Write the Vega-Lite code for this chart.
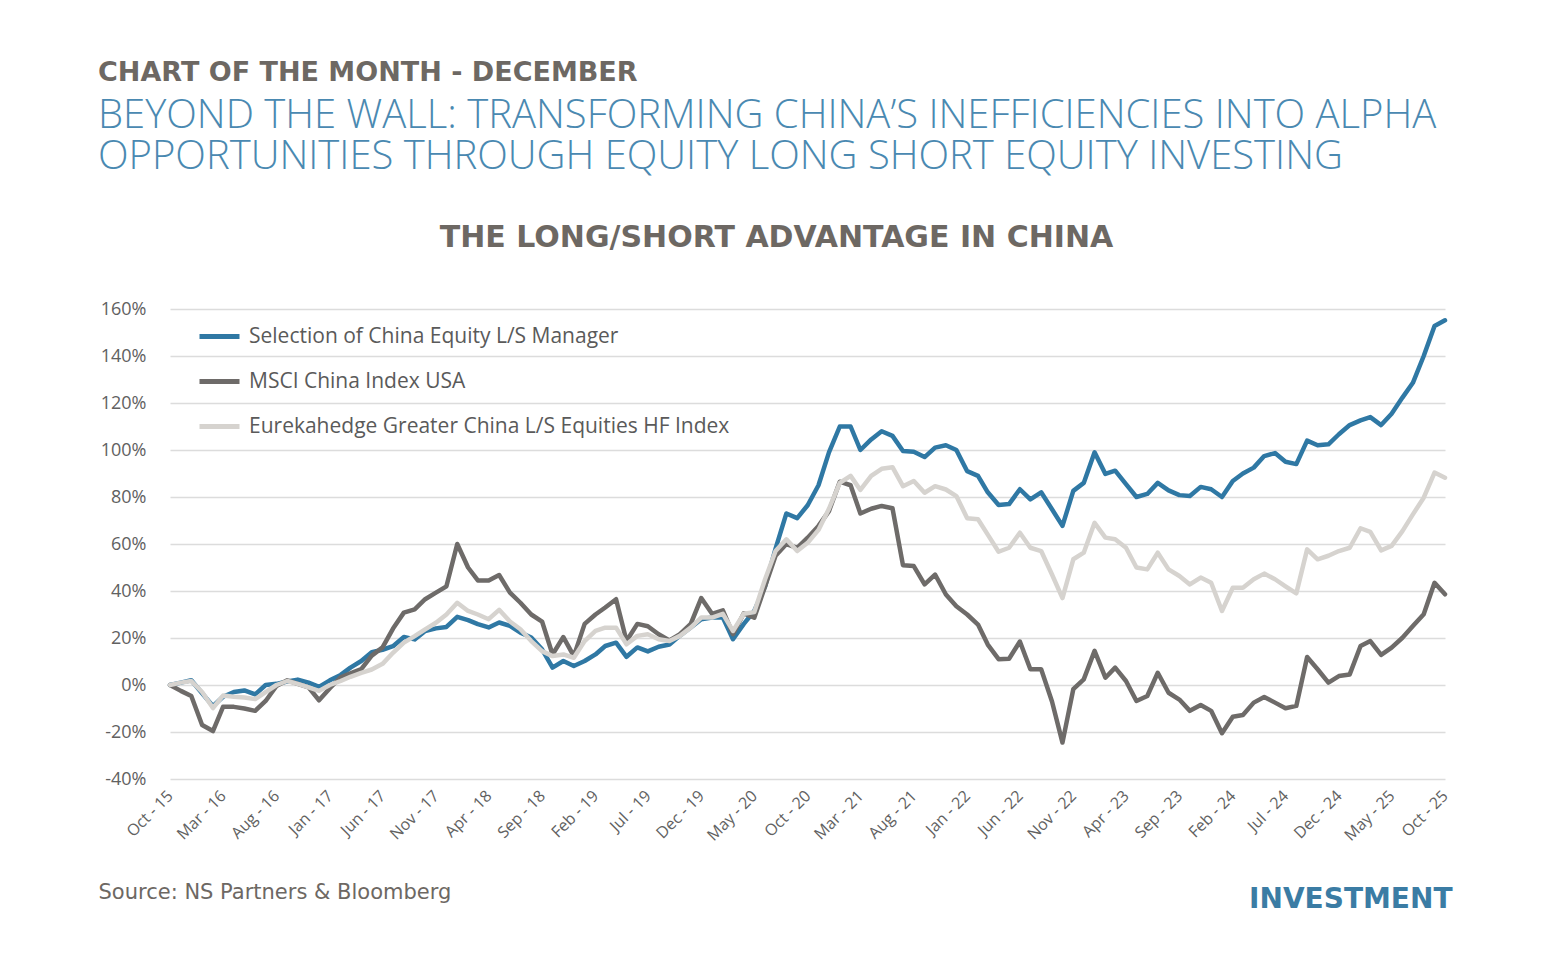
{
  "$schema": "https://vega.github.io/schema/vega-lite/v6.json",
  "width": 1275,
  "height": 470,
  "autosize": {"type": "none"},
  "padding": {"left": 170, "top": 309, "right": 105, "bottom": 191},
  "background": "white",
  "config": {"view": {"stroke": null}, "font": "Open Sans"},
  "title": {
    "text": "CHART OF THE MONTH - DECEMBER",
    "subtitle": ["BEYOND THE WALL: TRANSFORMING CHINA’S INEFFICIENCIES INTO ALPHA", "OPPORTUNITIES THROUGH EQUITY LONG SHORT EQUITY INVESTING"],
    "anchor": "start",
    "frame": "group",
    "dx": -72,
    "offset": 44,
    "font": "DejaVu Sans",
    "fontSize": 27,
    "fontWeight": "bold",
    "color": "#6d6863",
    "subtitleFont": "Open Sans",
    "subtitleFontSize": 40,
    "subtitleFontWeight": 300,
    "subtitleColor": "#4a89b1",
    "subtitlePadding": 9,
    "subtitleLineHeight": 41
  },
  "data": {"values": [
    {"month": "2015-10-01", "manager": 0, "msci": 0, "eureka": 0},
    {"month": "2015-11-01", "manager": 1, "msci": -2.5, "eureka": 1},
    {"month": "2015-12-01", "manager": 2, "msci": -4.7, "eureka": 1.7},
    {"month": "2016-01-01", "manager": -3.5, "msci": -17, "eureka": -3},
    {"month": "2016-02-01", "manager": -9, "msci": -19.6, "eureka": -9.8},
    {"month": "2016-03-01", "manager": -5, "msci": -9.3, "eureka": -4.5},
    {"month": "2016-04-01", "manager": -3, "msci": -9.3, "eureka": -5},
    {"month": "2016-05-01", "manager": -2.3, "msci": -10, "eureka": -5.3},
    {"month": "2016-06-01", "manager": -4, "msci": -11, "eureka": -6},
    {"month": "2016-07-01", "manager": 0, "msci": -6.8, "eureka": -3},
    {"month": "2016-08-01", "manager": 0.5, "msci": -0.4, "eureka": 0},
    {"month": "2016-09-01", "manager": 1.5, "msci": 2, "eureka": 1.7},
    {"month": "2016-10-01", "manager": 2.3, "msci": 0.5, "eureka": 0.5},
    {"month": "2016-11-01", "manager": 1, "msci": -1, "eureka": -1},
    {"month": "2016-12-01", "manager": -0.8, "msci": -6.5, "eureka": -2.5},
    {"month": "2017-01-01", "manager": 2, "msci": -1.4, "eureka": 0},
    {"month": "2017-02-01", "manager": 4.3, "msci": 3.3, "eureka": 1.7},
    {"month": "2017-03-01", "manager": 7.4, "msci": 5, "eureka": 3.5},
    {"month": "2017-04-01", "manager": 10.2, "msci": 6.8, "eureka": 5.2},
    {"month": "2017-05-01", "manager": 14, "msci": 12.5, "eureka": 6.6},
    {"month": "2017-06-01", "manager": 15, "msci": 16, "eureka": 9},
    {"month": "2017-07-01", "manager": 16.5, "msci": 24, "eureka": 13.7},
    {"month": "2017-08-01", "manager": 20.4, "msci": 30.8, "eureka": 18},
    {"month": "2017-09-01", "manager": 19.4, "msci": 32.2, "eureka": 20.8},
    {"month": "2017-10-01", "manager": 23, "msci": 36.5, "eureka": 23.7},
    {"month": "2017-11-01", "manager": 24.1, "msci": 39.3, "eureka": 26.5},
    {"month": "2017-12-01", "manager": 24.7, "msci": 42, "eureka": 30},
    {"month": "2018-01-01", "manager": 29, "msci": 60, "eureka": 35},
    {"month": "2018-02-01", "manager": 27.6, "msci": 50, "eureka": 31.5},
    {"month": "2018-03-01", "manager": 25.9, "msci": 44.5, "eureka": 30},
    {"month": "2018-04-01", "manager": 24.5, "msci": 44.5, "eureka": 28},
    {"month": "2018-05-01", "manager": 26.6, "msci": 46.8, "eureka": 32},
    {"month": "2018-06-01", "manager": 25.2, "msci": 39.3, "eureka": 27},
    {"month": "2018-07-01", "manager": 22.3, "msci": 35, "eureka": 23.7},
    {"month": "2018-08-01", "manager": 20.2, "msci": 30, "eureka": 18.7},
    {"month": "2018-09-01", "manager": 15.2, "msci": 27, "eureka": 14.4},
    {"month": "2018-10-01", "manager": 7.4, "msci": 13, "eureka": 12.3},
    {"month": "2018-11-01", "manager": 10.2, "msci": 20.4, "eureka": 13},
    {"month": "2018-12-01", "manager": 8.1, "msci": 12.3, "eureka": 11.6},
    {"month": "2019-01-01", "manager": 10.2, "msci": 26, "eureka": 18.7},
    {"month": "2019-02-01", "manager": 13, "msci": 30, "eureka": 23},
    {"month": "2019-03-01", "manager": 16.6, "msci": 33, "eureka": 24.4},
    {"month": "2019-04-01", "manager": 18, "msci": 36.5, "eureka": 24.4},
    {"month": "2019-05-01", "manager": 12, "msci": 18.7, "eureka": 17.3},
    {"month": "2019-06-01", "manager": 16, "msci": 26, "eureka": 20.9},
    {"month": "2019-07-01", "manager": 14.3, "msci": 25, "eureka": 21.6},
    {"month": "2019-08-01", "manager": 16.3, "msci": 21.6, "eureka": 19.5},
    {"month": "2019-09-01", "manager": 17.2, "msci": 19, "eureka": 18.7},
    {"month": "2019-10-01", "manager": 21, "msci": 21.6, "eureka": 20.9},
    {"month": "2019-11-01", "manager": 24.5, "msci": 26, "eureka": 24.4},
    {"month": "2019-12-01", "manager": 28, "msci": 37, "eureka": 28.7},
    {"month": "2020-01-01", "manager": 28.7, "msci": 30.3, "eureka": 28.7},
    {"month": "2020-02-01", "manager": 28.7, "msci": 31.8, "eureka": 30.3},
    {"month": "2020-03-01", "manager": 19.5, "msci": 21.6, "eureka": 23},
    {"month": "2020-04-01", "manager": 26, "msci": 30.5, "eureka": 30.3},
    {"month": "2020-05-01", "manager": 31.5, "msci": 28.6, "eureka": 31},
    {"month": "2020-06-01", "manager": 42, "msci": 42, "eureka": 45},
    {"month": "2020-07-01", "manager": 58, "msci": 55, "eureka": 57},
    {"month": "2020-08-01", "manager": 73, "msci": 60, "eureka": 62},
    {"month": "2020-09-01", "manager": 71, "msci": 58.4, "eureka": 57},
    {"month": "2020-10-01", "manager": 76.5, "msci": 62.7, "eureka": 60.5},
    {"month": "2020-11-01", "manager": 85, "msci": 67.7, "eureka": 66},
    {"month": "2020-12-01", "manager": 99, "msci": 74, "eureka": 75},
    {"month": "2021-01-01", "manager": 110, "msci": 86.5, "eureka": 86},
    {"month": "2021-02-01", "manager": 110, "msci": 85, "eureka": 89},
    {"month": "2021-03-01", "manager": 100, "msci": 73, "eureka": 83},
    {"month": "2021-04-01", "manager": 104.5, "msci": 75, "eureka": 89},
    {"month": "2021-05-01", "manager": 108, "msci": 76.2, "eureka": 92},
    {"month": "2021-06-01", "manager": 106, "msci": 75.2, "eureka": 92.7},
    {"month": "2021-07-01", "manager": 99.6, "msci": 51, "eureka": 84.6},
    {"month": "2021-08-01", "manager": 99.3, "msci": 50.6, "eureka": 86.8},
    {"month": "2021-09-01", "manager": 97, "msci": 42.8, "eureka": 81.8},
    {"month": "2021-10-01", "manager": 101, "msci": 47, "eureka": 84.6},
    {"month": "2021-11-01", "manager": 102, "msci": 38.5, "eureka": 83.2},
    {"month": "2021-12-01", "manager": 100, "msci": 33.5, "eureka": 80.4},
    {"month": "2022-01-01", "manager": 91, "msci": 30, "eureka": 71},
    {"month": "2022-02-01", "manager": 89, "msci": 25.7, "eureka": 70.5},
    {"month": "2022-03-01", "manager": 82, "msci": 17.2, "eureka": 64},
    {"month": "2022-04-01", "manager": 76.6, "msci": 11, "eureka": 56.7},
    {"month": "2022-05-01", "manager": 77, "msci": 11.2, "eureka": 58.4},
    {"month": "2022-06-01", "manager": 83.3, "msci": 18.5, "eureka": 64.8},
    {"month": "2022-07-01", "manager": 79, "msci": 6.7, "eureka": 58.4},
    {"month": "2022-08-01", "manager": 82, "msci": 6.7, "eureka": 57},
    {"month": "2022-09-01", "manager": 74.8, "msci": -7, "eureka": 47},
    {"month": "2022-10-01", "manager": 67.7, "msci": -24.5, "eureka": 37},
    {"month": "2022-11-01", "manager": 82.6, "msci": -1.8, "eureka": 53.5},
    {"month": "2022-12-01", "manager": 86, "msci": 2.4, "eureka": 56.3},
    {"month": "2023-01-01", "manager": 99, "msci": 14.5, "eureka": 69},
    {"month": "2023-02-01", "manager": 89.8, "msci": 3.1, "eureka": 62.7},
    {"month": "2023-03-01", "manager": 91.2, "msci": 7.4, "eureka": 62},
    {"month": "2023-04-01", "manager": 85.5, "msci": 1.7, "eureka": 58.4},
    {"month": "2023-05-01", "manager": 80, "msci": -6.8, "eureka": 50},
    {"month": "2023-06-01", "manager": 81.3, "msci": -4.7, "eureka": 49.2},
    {"month": "2023-07-01", "manager": 86, "msci": 5.2, "eureka": 56.3},
    {"month": "2023-08-01", "manager": 82.8, "msci": -3.3, "eureka": 49.2},
    {"month": "2023-09-01", "manager": 80.8, "msci": -6.2, "eureka": 46.4},
    {"month": "2023-10-01", "manager": 80.4, "msci": -11, "eureka": 42.8},
    {"month": "2023-11-01", "manager": 84.3, "msci": -8.5, "eureka": 45.7},
    {"month": "2023-12-01", "manager": 83.3, "msci": -11, "eureka": 43.5},
    {"month": "2024-01-01", "manager": 80, "msci": -20.5, "eureka": 31.5},
    {"month": "2024-02-01", "manager": 86.8, "msci": -13.5, "eureka": 41.4},
    {"month": "2024-03-01", "manager": 90, "msci": -12.8, "eureka": 41.4},
    {"month": "2024-04-01", "manager": 92.5, "msci": -7.5, "eureka": 45},
    {"month": "2024-05-01", "manager": 97.4, "msci": -5.1, "eureka": 47.4},
    {"month": "2024-06-01", "manager": 98.7, "msci": -7.5, "eureka": 45},
    {"month": "2024-07-01", "manager": 95, "msci": -9.9, "eureka": 42},
    {"month": "2024-08-01", "manager": 94, "msci": -8.9, "eureka": 39},
    {"month": "2024-09-01", "manager": 104, "msci": 11.9, "eureka": 57.7},
    {"month": "2024-10-01", "manager": 102, "msci": 6.7, "eureka": 53.5},
    {"month": "2024-11-01", "manager": 102.4, "msci": 1, "eureka": 55},
    {"month": "2024-12-01", "manager": 106.7, "msci": 3.8, "eureka": 57},
    {"month": "2025-01-01", "manager": 110.6, "msci": 4.5, "eureka": 58.4},
    {"month": "2025-02-01", "manager": 112.6, "msci": 16.6, "eureka": 66.7},
    {"month": "2025-03-01", "manager": 114, "msci": 18.7, "eureka": 65.2},
    {"month": "2025-04-01", "manager": 110.6, "msci": 12.8, "eureka": 57.3},
    {"month": "2025-05-01", "manager": 115.4, "msci": 15.9, "eureka": 59.2},
    {"month": "2025-06-01", "manager": 122.3, "msci": 20.1, "eureka": 65.5},
    {"month": "2025-07-01", "manager": 128.6, "msci": 25.1, "eureka": 72.6},
    {"month": "2025-08-01", "manager": 140, "msci": 30.1, "eureka": 79.7},
    {"month": "2025-09-01", "manager": 152.8, "msci": 43.5, "eureka": 90.4},
    {"month": "2025-10-01", "manager": 155.2, "msci": 38.6, "eureka": 88.2}
  ]},
  "transform": [{"fold": ["manager", "msci", "eureka"], "as": ["series", "value"]}],
  "resolve": {"axis": {"x": "independent", "y": "independent"}},
  "layer": [
    {
      "mark": {"type": "line", "strokeWidth": 4.5, "strokeJoin": "round", "strokeCap": "round"},
      "encoding": {
        "x": {
          "field": "month", "type": "temporal", "timeUnit": "utcyearmonth",
          "scale": {"domain": [{"year": 2015, "month": 10, "date": 1, "utc": true}, {"year": 2025, "month": 10, "date": 1, "utc": true}]},
          "axis": {
            "orient": "bottom",
            "values": [
              {"year": 2015, "month": 10, "date": 1, "utc": true},
              {"year": 2016, "month": 3, "date": 1, "utc": true},
              {"year": 2016, "month": 8, "date": 1, "utc": true},
              {"year": 2017, "month": 1, "date": 1, "utc": true},
              {"year": 2017, "month": 6, "date": 1, "utc": true},
              {"year": 2017, "month": 11, "date": 1, "utc": true},
              {"year": 2018, "month": 4, "date": 1, "utc": true},
              {"year": 2018, "month": 9, "date": 1, "utc": true},
              {"year": 2019, "month": 2, "date": 1, "utc": true},
              {"year": 2019, "month": 7, "date": 1, "utc": true},
              {"year": 2019, "month": 12, "date": 1, "utc": true},
              {"year": 2020, "month": 5, "date": 1, "utc": true},
              {"year": 2020, "month": 10, "date": 1, "utc": true},
              {"year": 2021, "month": 3, "date": 1, "utc": true},
              {"year": 2021, "month": 8, "date": 1, "utc": true},
              {"year": 2022, "month": 1, "date": 1, "utc": true},
              {"year": 2022, "month": 6, "date": 1, "utc": true},
              {"year": 2022, "month": 11, "date": 1, "utc": true},
              {"year": 2023, "month": 4, "date": 1, "utc": true},
              {"year": 2023, "month": 9, "date": 1, "utc": true},
              {"year": 2024, "month": 2, "date": 1, "utc": true},
              {"year": 2024, "month": 7, "date": 1, "utc": true},
              {"year": 2024, "month": 12, "date": 1, "utc": true},
              {"year": 2025, "month": 5, "date": 1, "utc": true},
              {"year": 2025, "month": 10, "date": 1, "utc": true}
            ],
            "format": "%b - %y",
            "labelAngle": -45,
            "labelAlign": "right",
            "labelBaseline": "middle",
            "labelPadding": 14,
            "labelFontSize": 16,
            "labelColor": "#616161",
            "labelOverlap": false,
            "labelFlush": false,
            "ticks": false,
            "domain": false,
            "grid": false,
            "title": "Source: NS Partners & Bloomberg",
            "titleFont": "DejaVu Sans",
            "titleFontSize": 21,
            "titleFontWeight": "normal",
            "titleColor": "#6d6863",
            "titleAnchor": "start",
            "titleAlign": "left",
            "titleBaseline": "alphabetic",
            "titleX": -72,
            "titleY": 119
          }
        },
        "y": {
          "field": "value", "type": "quantitative",
          "scale": {"domain": [-40, 160], "nice": false},
          "axis": {
            "orient": "left",
            "values": [-40, -20, 0, 20, 40, 60, 80, 100, 120, 140, 160],
            "labelExpr": "datum.value + '%'",
            "labelFontSize": 18,
            "labelColor": "#616161",
            "labelPadding": 24,
            "ticks": false,
            "domain": false,
            "grid": true,
            "gridColor": "#dcdcdc",
            "gridWidth": 1.6,
            "title": null
          }
        },
        "color": {
          "field": "series", "type": "nominal",
          "scale": {"domain": ["manager", "msci", "eureka"], "range": ["#2f78a4", "#6e6b69", "#d6d3cf"]},
          "legend": {
            "orient": "none",
            "legendX": 27,
            "legendY": 5,
            "direction": "vertical",
            "title": null,
            "symbolType": "stroke",
            "symbolSize": 1600,
            "symbolStrokeWidth": 5,
            "rowPadding": 12,
            "labelOffset": 7,
            "labelFontSize": 21,
            "labelColor": "#5a5a5a",
            "labelLimit": 700,
            "labelExpr": "datum.label == 'manager' ? 'Selection of China Equity L/S Manager' : datum.label == 'msci' ? 'MSCI China Index USA' : 'Eurekahedge Greater China L/S Equities HF Index'"
          }
        }
      }
    },
    {
      "mark": {"type": "line", "opacity": 0},
      "encoding": {
        "x": {
          "field": "month", "type": "temporal", "timeUnit": "utcyearmonth",
          "axis": {
            "orient": "top",
            "labels": false,
            "ticks": false,
            "domain": false,
            "grid": false,
            "title": "THE LONG/SHORT ADVANTAGE IN CHINA",
            "titleFont": "DejaVu Sans",
            "titleFontSize": 30,
            "titleFontWeight": "bold",
            "titleColor": "#6d6863",
            "titleAlign": "center",
            "titleBaseline": "alphabetic",
            "titleX": 606,
            "titleY": -63
          }
        },
        "y": {
          "field": "value", "type": "quantitative",
          "axis": {
            "orient": "right",
            "labels": false,
            "ticks": false,
            "domain": false,
            "grid": false,
            "title": "INVESTMENT",
            "titleFont": "DejaVu Sans",
            "titleFontSize": 28,
            "titleFontWeight": "bold",
            "titleColor": "#3b7ca4",
            "titleAngle": 0,
            "titleAlign": "right",
            "titleBaseline": "alphabetic",
            "titleX": 7,
            "titleY": 598
          }
        }
      }
    }
  ]
}
